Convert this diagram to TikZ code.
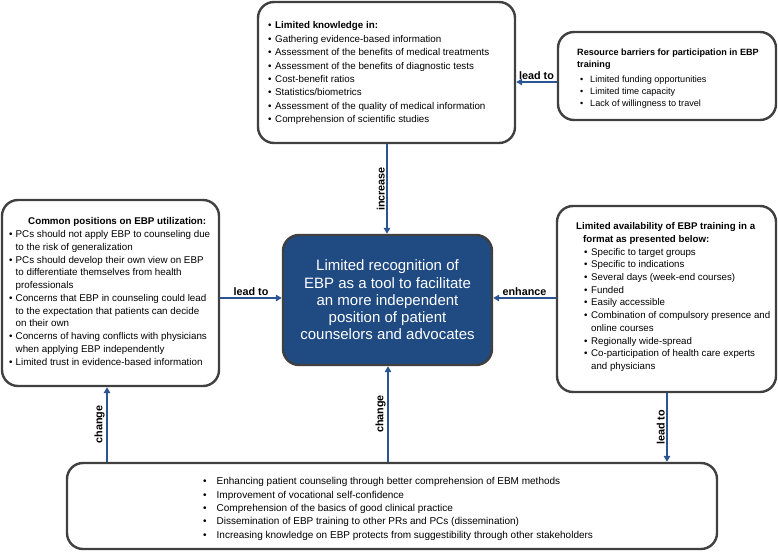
\documentclass[tikz,border=0pt]{standalone}
\usepackage{fontspec}
\setmainfont{Liberation Sans}
\usetikzlibrary{arrows.meta}
\definecolor{boxline}{HTML}{404040}
\definecolor{navy}{HTML}{1F4A82}
\definecolor{arrowblue}{HTML}{2B5592}
\newcommand{\bul}[1][7pt]{\makebox[#1][l]{\textbullet}}
\begin{document}
\begin{tikzpicture}[x=1pt,y=-1pt,
 box/.style={draw=boxline, line width=2.4pt, rounded corners=16pt, fill=white, inner sep=0pt},
 txt/.style={anchor=north west, align=left, inner sep=0pt},
 arr/.style={draw=arrowblue, line width=1.8pt, -{Triangle[length=6pt,width=6.5pt]}},
 lab/.style={font=\fontsize{10.8}{12}\selectfont\bfseries, inner sep=1.5pt}
]
\useasboundingbox (0,0) rectangle (778,551);
% boxes
\node[box, minimum width=257pt, minimum height=141pt] (tbox) at (386.5,72.5) {};
\node[box, minimum width=218pt, minimum height=88pt] (rbox) at (667,76) {};
\node[box, minimum width=217pt, minimum height=186pt] (lbox) at (110.5,293) {};
\node[box, fill=navy, minimum width=209pt, minimum height=130pt, text=white, align=center,
      font=\fontsize{15}{17.3}\selectfont] (cbox) at (387.5,300)
  {Limited recognition of\\EBP as a tool to facilitate\\an more independent\\position of patient\\counselors and advocates};
\node[box, minimum width=219pt, minimum height=186pt] (rtbox) at (666.5,299) {};
\node[box, minimum width=650pt, minimum height=86pt] (bbox) at (392,506) {};
% texts
\node[txt, font=\fontsize{9.8}{13.4}\selectfont] (ttxt) at (268,21.5) {%
\bul{\bfseries Limited knowledge in:}\\
\bul Gathering evidence-based information\\
\bul Assessment of the benefits of medical treatments\\
\bul Assessment of the benefits of diagnostic tests\\
\bul Cost-benefit ratios\\
\bul Statistics/biometrics\\
\bul Assessment of the quality of medical information\\
\bul Comprehension of scientific studies};
\node[txt, font=\fontsize{9.1}{11.8}\selectfont] (rtxt) at (577,48.5) {%
{\bfseries Resource barriers for participation in EBP}\\
{\bfseries training}\\[4pt]
\hspace*{3pt}\bul[10pt]Limited funding opportunities\\
\hspace*{3pt}\bul[10pt]Limited time capacity\\
\hspace*{3pt}\bul[10pt]Lack of willingness to travel};
\node[txt, font=\fontsize{9.8}{12.75}\selectfont] (ltxt) at (9,217.5) {%
\hspace*{19pt}{\bfseries Common positions on EBP utilization:}\\
\bul[6.5pt]PCs should not apply EBP to counseling due\\
\hspace*{6.5pt}to the risk of generalization\\
\bul[6.5pt]PCs should develop their own view on EBP\\
\hspace*{6.5pt}to differentiate themselves from health\\
\hspace*{6.5pt}professionals\\
\bul[6.5pt]Concerns that EBP in counseling could lead\\
\hspace*{6.5pt}to the expectation that patients can decide\\
\hspace*{6.5pt}on their own\\
\bul[6.5pt]Concerns of having conflicts with physicians\\
\hspace*{6.5pt}when applying EBP independently\\
\bul[6.5pt]Limited trust in evidence-based information};
\node[txt, font=\fontsize{9.7}{12.7}\selectfont] (rttxt) at (576,222.5) {%
{\bfseries Limited availability of EBP training in a}\\
\hspace*{7pt}{\bfseries format as presented below:}\\
\hspace*{8pt}\bul Specific to target groups\\
\hspace*{8pt}\bul Specific to indications\\
\hspace*{8pt}\bul Several days (week-end courses)\\
\hspace*{8pt}\bul Funded\\
\hspace*{8pt}\bul Easily accessible\\
\hspace*{8pt}\bul Combination of compulsory presence and\\
\hspace*{15pt}online courses\\
\hspace*{8pt}\bul Regionally wide-spread\\
\hspace*{8pt}\bul Co-participation of health care experts\\
\hspace*{15pt}and physicians};
\node[txt, font=\fontsize{10}{13.3}\selectfont] (btxt) at (203,477.5) {%
\bul[13.5pt]Enhancing patient counseling through better comprehension of EBM methods\\
\bul[13.5pt]Improvement of vocational self-confidence\\
\bul[13.5pt]Comprehension of the basics of good clinical practice\\
\bul[13.5pt]Dissemination of EBP training to other PRs and PCs (dissemination)\\
\bul[13.5pt]Increasing knowledge on EBP protects from suggestibility through other stakeholders};
% connectors
\draw[arr] (rbox.west |- 0,82) -- node[lab, above] {lead to} (tbox.east |- 0,82);
\draw[arr] (tbox.south -| 387,0) -- node[lab, rotate=90, anchor=south] {increase} (cbox.north -| 387,0);
\draw[arr] (lbox.east |- 0,298) -- node[lab, above] {lead to} (cbox.west |- 0,298);
\draw[arr] (rtbox.west |- 0,298) -- node[lab, above] {enhance} (cbox.east |- 0,298);
\draw[arr] (bbox.north -| 107,0) -- node[lab, rotate=90, anchor=south] {change} (lbox.south -| 107,0);
\draw[arr] (bbox.north -| 388,0) -- node[lab, rotate=90, anchor=south] {change} (cbox.south -| 388,0);
\draw[arr] (rtbox.south -| 667,0) -- node[lab, rotate=90, anchor=south] {lead to} (bbox.north -| 667,0);
\end{tikzpicture}
\end{document}
